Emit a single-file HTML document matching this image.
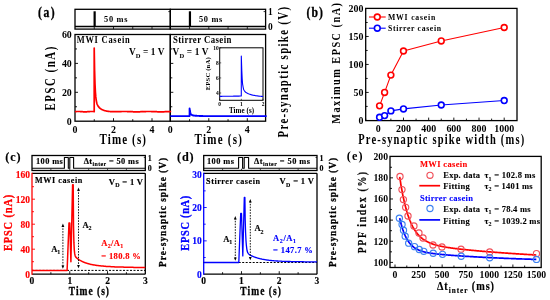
<!DOCTYPE html>
<html><head><meta charset="utf-8"><style>
html,body{margin:0;padding:0;background:#fff;width:550px;height:300px;overflow:hidden}
svg{display:block;filter:blur(0.35px)}
text{font-family:"Liberation Serif",serif;font-weight:bold}
</style></head><body>
<svg width="550" height="300" viewBox="0 0 550 300">
<rect x="0" y="0" width="550" height="300" fill="#fff"/>
<text stroke="#000" stroke-width="0.3" transform="translate(38.00,16.80) scale(0.82,1)" font-size="14.3" fill="#000" text-anchor="start" textLength="20.37" lengthAdjust="spacing">(a)</text>
<rect x="75.00" y="9.30" width="95.30" height="19.80" fill="none" stroke="#000" stroke-width="1.3"/>
<rect x="170.30" y="9.30" width="95.30" height="19.80" fill="none" stroke="#000" stroke-width="1.3"/>
<line x1="75.00" y1="26.50" x2="170.30" y2="26.50" stroke="#000" stroke-width="1.3" />
<rect x="93.54" y="11.3" width="2.2" height="15.3" fill="#000"/>
<line x1="94.25" y1="29.10" x2="94.25" y2="26.80" stroke="#000" stroke-width="0.8" />
<line x1="113.50" y1="29.10" x2="113.50" y2="26.80" stroke="#000" stroke-width="0.8" />
<line x1="132.75" y1="29.10" x2="132.75" y2="26.80" stroke="#000" stroke-width="0.8" />
<line x1="152.00" y1="29.10" x2="152.00" y2="26.80" stroke="#000" stroke-width="0.8" />
<line x1="170.30" y1="11.60" x2="168.30" y2="11.60" stroke="#000" stroke-width="0.8" />
<line x1="170.30" y1="26.50" x2="265.60" y2="26.50" stroke="#000" stroke-width="1.3" />
<rect x="188.84" y="11.3" width="2.2" height="15.3" fill="#000"/>
<line x1="189.55" y1="29.10" x2="189.55" y2="26.80" stroke="#000" stroke-width="0.8" />
<line x1="208.80" y1="29.10" x2="208.80" y2="26.80" stroke="#000" stroke-width="0.8" />
<line x1="228.05" y1="29.10" x2="228.05" y2="26.80" stroke="#000" stroke-width="0.8" />
<line x1="247.30" y1="29.10" x2="247.30" y2="26.80" stroke="#000" stroke-width="0.8" />
<line x1="265.60" y1="11.60" x2="263.60" y2="11.60" stroke="#000" stroke-width="0.8" />
<text transform="translate(104.10,22.20) scale(0.95,1)" font-size="8.8" fill="#000" text-anchor="start" textLength="24.63" lengthAdjust="spacing">50 ms</text>
<text transform="translate(198.90,22.20) scale(0.95,1)" font-size="8.8" fill="#000" text-anchor="start" textLength="24.63" lengthAdjust="spacing">50 ms</text>
<text transform="translate(270.30,15.00) scale(0.92,1)" font-size="10.26" fill="#000" text-anchor="middle">1</text>
<text transform="translate(270.30,30.00) scale(0.92,1)" font-size="10.26" fill="#000" text-anchor="middle">0</text>
<rect x="75.00" y="34.50" width="95.30" height="86.70" fill="none" stroke="#000" stroke-width="1.3"/>
<rect x="170.30" y="34.50" width="95.30" height="86.70" fill="none" stroke="#000" stroke-width="1.3"/>
<line x1="75.00" y1="106.75" x2="77.00" y2="106.75" stroke="#000" stroke-width="0.9" />
<line x1="75.00" y1="92.30" x2="78.00" y2="92.30" stroke="#000" stroke-width="0.9" />
<line x1="75.00" y1="77.85" x2="77.00" y2="77.85" stroke="#000" stroke-width="0.9" />
<line x1="75.00" y1="63.40" x2="78.00" y2="63.40" stroke="#000" stroke-width="0.9" />
<line x1="75.00" y1="48.95" x2="77.00" y2="48.95" stroke="#000" stroke-width="0.9" />
<line x1="94.25" y1="121.20" x2="94.25" y2="119.20" stroke="#000" stroke-width="0.9" />
<line x1="113.50" y1="121.20" x2="113.50" y2="118.20" stroke="#000" stroke-width="0.9" />
<line x1="132.75" y1="121.20" x2="132.75" y2="119.20" stroke="#000" stroke-width="0.9" />
<line x1="152.00" y1="121.20" x2="152.00" y2="118.20" stroke="#000" stroke-width="0.9" />
<line x1="170.30" y1="106.75" x2="172.30" y2="106.75" stroke="#000" stroke-width="0.9" />
<line x1="170.30" y1="92.30" x2="173.30" y2="92.30" stroke="#000" stroke-width="0.9" />
<line x1="170.30" y1="77.85" x2="172.30" y2="77.85" stroke="#000" stroke-width="0.9" />
<line x1="170.30" y1="63.40" x2="173.30" y2="63.40" stroke="#000" stroke-width="0.9" />
<line x1="170.30" y1="48.95" x2="172.30" y2="48.95" stroke="#000" stroke-width="0.9" />
<line x1="189.55" y1="121.20" x2="189.55" y2="119.20" stroke="#000" stroke-width="0.9" />
<line x1="208.80" y1="121.20" x2="208.80" y2="118.20" stroke="#000" stroke-width="0.9" />
<line x1="228.05" y1="121.20" x2="228.05" y2="119.20" stroke="#000" stroke-width="0.9" />
<line x1="247.30" y1="121.20" x2="247.30" y2="118.20" stroke="#000" stroke-width="0.9" />
<text transform="translate(71.80,124.60) scale(0.92,1)" font-size="10.80" fill="#000" text-anchor="end">0</text>
<text transform="translate(71.80,95.70) scale(0.92,1)" font-size="10.80" fill="#000" text-anchor="end">20</text>
<text transform="translate(71.80,66.80) scale(0.92,1)" font-size="10.80" fill="#000" text-anchor="end">40</text>
<text transform="translate(71.80,37.90) scale(0.92,1)" font-size="10.80" fill="#000" text-anchor="end">60</text>
<text transform="translate(75.00,132.60) scale(0.92,1)" font-size="10.80" fill="#000" text-anchor="middle">0</text>
<text transform="translate(113.50,132.60) scale(0.92,1)" font-size="10.80" fill="#000" text-anchor="middle">2</text>
<text transform="translate(152.00,132.60) scale(0.92,1)" font-size="10.80" fill="#000" text-anchor="middle">4</text>
<text transform="translate(170.30,132.60) scale(0.92,1)" font-size="10.80" fill="#000" text-anchor="middle">0</text>
<text transform="translate(208.80,132.60) scale(0.92,1)" font-size="10.80" fill="#000" text-anchor="middle">2</text>
<text transform="translate(247.30,132.60) scale(0.92,1)" font-size="10.80" fill="#000" text-anchor="middle">4</text>
<text transform="translate(99.50,144.40) scale(0.76,1)" font-size="14.5" fill="#000" text-anchor="start" textLength="61.18" lengthAdjust="spacing">Time (s)</text>
<text transform="translate(194.50,144.40) scale(0.76,1)" font-size="14.5" fill="#000" text-anchor="start" textLength="62.50" lengthAdjust="spacing">Time (s)</text>
<text transform="translate(55.20,78.60) rotate(-90) scale(0.76,1)" font-size="14.3" fill="#000" text-anchor="middle" textLength="84.21" lengthAdjust="spacing">EPSC (nA)</text>
<text transform="translate(287.60,72.20) rotate(-90) scale(0.76,1)" font-size="14.3" fill="#000" text-anchor="middle" textLength="171.71" lengthAdjust="spacing">Pre-synaptic spike (V)</text>
<path d="M75.0,111.7L75.4,111.6L75.8,111.6L76.2,111.6L76.5,111.5L76.9,111.5L77.3,111.5L77.7,111.5L78.1,111.5L78.5,111.5L78.8,111.5L79.2,111.5L79.6,111.5L80.0,111.5L80.4,111.6L80.8,111.6L81.2,111.6L81.5,111.6L81.9,111.7L82.3,111.7L82.7,111.7L83.1,111.8L83.5,111.8L83.9,111.8L84.2,111.8L84.6,111.8L85.0,111.8L85.4,111.8L85.8,111.8L86.2,111.8L86.5,111.8L86.9,111.8L87.3,111.7L87.7,111.7L88.1,111.7L88.5,111.7L88.9,111.6L89.2,111.6L89.6,111.6L90.0,111.5L90.4,111.5L90.8,111.5L91.2,111.5L91.6,111.5L91.9,111.5L92.3,111.5L92.7,111.5L93.1,111.5L93.5,111.5L93.9,111.6L94.2,111.7L94.2,48.1L94.6,70.8L95.0,84.1L95.4,92.1L95.8,96.9L96.2,100.0L96.6,102.1L96.9,103.5L97.3,104.6L97.7,105.4L98.1,106.1L98.5,106.6L98.9,107.1L99.3,107.6L99.6,107.9L100.0,108.3L100.4,108.6L100.8,108.9L101.2,109.1L101.6,109.4L102.0,109.6L102.3,109.8L102.7,109.9L103.1,110.1L103.5,110.3L103.9,110.4L104.3,110.5L104.6,110.6L105.0,110.7L105.4,110.8L105.8,110.9L106.2,111.0L106.6,111.1L107.0,111.2L107.3,111.2L107.7,111.3L108.1,111.3L108.5,111.4L108.9,111.4L109.3,111.5L109.7,111.5L110.0,111.5L110.4,111.6L110.8,111.6L111.2,111.6L111.6,111.6L112.0,111.7L112.3,111.7L112.7,111.7L113.1,111.7L113.5,111.7L113.9,111.7L114.3,111.7L114.7,111.7L115.0,111.7L115.4,111.7L115.8,111.7L116.2,111.7L116.6,111.7L117.0,111.7L117.3,111.7L117.7,111.7L118.1,111.6L118.5,111.6L118.9,111.6L119.3,111.6L119.7,111.6L120.0,111.6L120.4,111.6L120.8,111.6L121.2,111.6L121.6,111.5L122.0,111.5L122.4,111.5L122.7,111.5L123.1,111.5L123.5,111.5L123.9,111.5L124.3,111.5L124.7,111.5L125.1,111.5L125.4,111.5L125.8,111.5L126.2,111.5L126.6,111.5L127.0,111.5L127.4,111.6L127.7,111.6L128.1,111.6L128.5,111.6L128.9,111.6L129.3,111.6L129.7,111.6L130.1,111.6L130.4,111.7L130.8,111.7L131.2,111.7L131.6,111.7L132.0,111.7L132.4,111.7L132.8,111.7L133.1,111.8L133.5,111.8L133.9,111.8L134.3,111.8L134.7,111.8L135.1,111.8L135.4,111.8L135.8,111.8L136.2,111.8L136.6,111.8L137.0,111.8L137.4,111.8L137.8,111.8L138.1,111.8L138.5,111.8L138.9,111.8L139.3,111.8L139.7,111.8L140.1,111.8L140.4,111.7L140.8,111.7L141.2,111.7L141.6,111.7L142.0,111.7L142.4,111.7L142.8,111.7L143.1,111.6L143.5,111.6L143.9,111.6L144.3,111.6L144.7,111.6L145.1,111.6L145.5,111.6L145.8,111.6L146.2,111.5L146.6,111.5L147.0,111.5L147.4,111.5L147.8,111.5L148.1,111.5L148.5,111.5L148.9,111.5L149.3,111.5L149.7,111.5L150.1,111.5L150.5,111.5L150.8,111.5L151.2,111.5L151.6,111.6L152.0,111.6L152.4,111.6L152.8,111.6L153.2,111.6L153.5,111.6L153.9,111.6L154.3,111.6L154.7,111.7L155.1,111.7L155.5,111.7L155.9,111.7L156.2,111.7L156.6,111.7L157.0,111.7L157.4,111.8L157.8,111.8L158.2,111.8L158.5,111.8L158.9,111.8L159.3,111.8L159.7,111.8L160.1,111.8L160.5,111.8L160.9,111.8L161.2,111.8L161.6,111.8L162.0,111.8L162.4,111.8L162.8,111.8L163.2,111.8L163.6,111.8L163.9,111.8L164.3,111.8L164.7,111.7L165.1,111.7L165.5,111.7L165.9,111.7L166.2,111.7L166.6,111.7L167.0,111.7L167.4,111.6L167.8,111.6L168.2,111.6L168.6,111.6L168.9,111.6L169.3,111.6L169.7,111.6L170.1,111.6L170.5,111.5L170.9,111.5L171.2,111.5" fill="none" stroke="#ff0000" stroke-width="1.7" stroke-linejoin="round" />
<path d="M170.3,116.1L170.7,116.1L171.1,116.1L171.5,116.1L171.8,116.1L172.2,116.1L172.6,116.1L173.0,116.1L173.4,116.1L173.8,116.1L174.2,116.1L174.5,116.1L174.9,116.1L175.3,116.1L175.7,116.1L176.1,116.1L176.5,116.1L176.8,116.1L177.2,116.1L177.6,116.1L178.0,116.1L178.4,116.1L178.8,116.1L179.2,116.1L179.5,116.1L179.9,116.1L180.3,116.1L180.7,116.1L181.1,116.1L181.5,116.1L181.9,116.1L182.2,116.1L182.6,116.1L183.0,116.1L183.4,116.1L183.8,116.1L184.2,116.1L184.5,116.1L184.9,116.1L185.3,116.1L185.7,116.1L186.1,116.1L186.5,116.1L186.9,116.1L187.2,116.1L187.6,116.1L188.0,116.1L188.4,116.1L188.8,116.1L189.2,116.1L189.6,116.1L189.6,108.5L189.9,111.0L190.3,112.6L190.7,113.6L191.1,114.3L191.5,114.7L191.9,114.9L192.2,115.1L192.6,115.3L193.0,115.4L193.4,115.5L193.8,115.5L194.2,115.6L194.6,115.6L194.9,115.7L195.3,115.7L195.7,115.7L196.1,115.8L196.5,115.8L196.9,115.8L197.2,115.9L197.6,115.9L198.0,115.9L198.4,115.9L198.8,115.9L199.2,115.9L199.6,116.0L199.9,116.0L200.3,116.0L200.7,116.0L201.1,116.0L201.5,116.0L201.9,116.0L202.3,116.0L202.6,116.0L203.0,116.1L203.4,116.1L203.8,116.1L204.2,116.1L204.6,116.1L205.0,116.1L205.3,116.1L205.7,116.1L206.1,116.1L206.5,116.1L206.9,116.1L207.3,116.1L207.6,116.1L208.0,116.1L208.4,116.1L208.8,116.1L209.2,116.1L209.6,116.1L210.0,116.1L210.3,116.1L210.7,116.1L211.1,116.1L211.5,116.1L211.9,116.1L212.3,116.1L212.7,116.1L213.0,116.1L213.4,116.1L213.8,116.1L214.2,116.1L214.6,116.1L215.0,116.1L215.3,116.1L215.7,116.1L216.1,116.1L216.5,116.1L216.9,116.1L217.3,116.1L217.7,116.1L218.0,116.1L218.4,116.1L218.8,116.1L219.2,116.1L219.6,116.1L220.0,116.1L220.4,116.1L220.7,116.1L221.1,116.1L221.5,116.1L221.9,116.1L222.3,116.1L222.7,116.1L223.0,116.1L223.4,116.1L223.8,116.1L224.2,116.1L224.6,116.1L225.0,116.1L225.4,116.1L225.7,116.1L226.1,116.1L226.5,116.1L226.9,116.1L227.3,116.1L227.7,116.1L228.1,116.1L228.4,116.1L228.8,116.1L229.2,116.1L229.6,116.1L230.0,116.1L230.4,116.1L230.7,116.1L231.1,116.1L231.5,116.1L231.9,116.1L232.3,116.1L232.7,116.1L233.1,116.1L233.4,116.1L233.8,116.1L234.2,116.1L234.6,116.1L235.0,116.1L235.4,116.1L235.8,116.1L236.1,116.1L236.5,116.1L236.9,116.1L237.3,116.1L237.7,116.1L238.1,116.1L238.4,116.1L238.8,116.1L239.2,116.1L239.6,116.1L240.0,116.1L240.4,116.1L240.8,116.1L241.1,116.1L241.5,116.1L241.9,116.1L242.3,116.1L242.7,116.1L243.1,116.1L243.4,116.1L243.8,116.1L244.2,116.1L244.6,116.1L245.0,116.1L245.4,116.1L245.8,116.1L246.1,116.1L246.5,116.1L246.9,116.1L247.3,116.1L247.7,116.1L248.1,116.1L248.5,116.1L248.8,116.1L249.2,116.1L249.6,116.1L250.0,116.1L250.4,116.1L250.8,116.1L251.2,116.1L251.5,116.1L251.9,116.1L252.3,116.1L252.7,116.1L253.1,116.1L253.5,116.1L253.8,116.1L254.2,116.1L254.6,116.1L255.0,116.1L255.4,116.1L255.8,116.1L256.2,116.1L256.5,116.1L256.9,116.1L257.3,116.1L257.7,116.1L258.1,116.1L258.5,116.1L258.9,116.1L259.2,116.1L259.6,116.1L260.0,116.1L260.4,116.1L260.8,116.1L261.2,116.1L261.5,116.1L261.9,116.1L262.3,116.1L262.7,116.1L263.1,116.1L263.5,116.1L263.9,116.1L264.2,116.1L264.6,116.1L265.0,116.1L265.4,116.1L265.8,116.1L266.2,116.1L266.6,116.1" fill="none" stroke="#0000ff" stroke-width="1.9" stroke-linejoin="round" />
<text transform="translate(76.70,43.40) scale(0.88,1)" font-size="9.6" fill="#000" text-anchor="start" textLength="60.23" lengthAdjust="spacing">MWI Casein</text>
<text transform="translate(172.90,43.10) scale(0.88,1)" font-size="10" fill="#000" text-anchor="start" textLength="66.48" lengthAdjust="spacing">Stirrer Casein</text>
<text transform="translate(129.10,54.90) scale(0.95,1)" font-size="9.8" fill="#000" textLength="37.26" lengthAdjust="spacing">V<tspan font-size="6.9" dy="2.6">D</tspan><tspan dy="-2.6"> = 1 V</tspan></text>
<text transform="translate(172.60,54.90) scale(0.95,1)" font-size="9.8" fill="#000" textLength="37.89" lengthAdjust="spacing">V<tspan font-size="6.9" dy="2.6">D</tspan><tspan dy="-2.6"> = 1 V</tspan></text>
<rect x="219.70" y="47.80" width="43.30" height="52.50" fill="#fff" stroke="#000" stroke-width="1.0"/>
<path d="M219.7,96.4L220.1,96.4L220.6,96.4L221.0,96.4L221.4,96.4L221.9,96.4L222.3,96.3L222.7,96.3L223.2,96.3L223.6,96.3L224.0,96.3L224.5,96.3L224.9,96.3L225.3,96.3L225.8,96.3L226.2,96.3L226.6,96.3L227.1,96.3L227.5,96.3L227.9,96.2L228.4,96.2L228.8,96.2L229.2,96.2L229.7,96.2L230.1,96.2L230.5,96.2L231.0,96.2L231.4,96.2L231.8,96.2L232.3,96.2L232.7,96.2L233.1,96.2L233.6,96.1L234.0,96.1L234.4,96.1L234.9,96.1L235.3,96.1L235.7,96.1L236.2,96.1L236.6,96.1L237.0,96.1L237.5,96.1L237.9,96.1L238.3,96.1L238.8,96.1L239.2,96.1L239.6,96.0L240.1,96.0L240.5,96.0L240.9,96.0L241.3,96.0L241.3,56.1L241.8,70.7L242.2,79.1L242.6,84.1L243.1,87.0L243.5,88.8L243.9,90.0L244.4,90.8L244.8,91.4L245.2,91.8L245.7,92.2L246.1,92.5L246.5,92.8L247.0,93.0L247.4,93.3L247.8,93.5L248.3,93.7L248.7,93.8L249.1,94.0L249.6,94.2L250.0,94.3L250.4,94.5L250.9,94.6L251.3,94.7L251.7,94.9L252.2,95.0L252.6,95.1L253.0,95.2L253.5,95.3L253.9,95.4L254.3,95.4L254.8,95.5L255.2,95.6L255.6,95.7L256.1,95.7L256.5,95.8L256.9,95.9L257.4,95.9L257.8,96.0L258.2,96.0L258.7,96.1L259.1,96.1L259.5,96.2L260.0,96.2L260.4,96.3L260.8,96.3L261.3,96.4L261.7,96.4L262.1,96.4L262.6,96.5L263.0,96.5" fill="none" stroke="#0000ff" stroke-width="1.1" stroke-linejoin="round" />
<line x1="219.70" y1="93.00" x2="221.20" y2="93.00" stroke="#000" stroke-width="0.6" />
<text transform="translate(218.70,95.00) scale(0.92,1)" font-size="5.94" fill="#000" text-anchor="end">4</text>
<line x1="219.70" y1="77.93" x2="221.20" y2="77.93" stroke="#000" stroke-width="0.6" />
<text transform="translate(218.70,79.93) scale(0.92,1)" font-size="5.94" fill="#000" text-anchor="end">6</text>
<line x1="219.70" y1="62.87" x2="221.20" y2="62.87" stroke="#000" stroke-width="0.6" />
<text transform="translate(218.70,64.87) scale(0.92,1)" font-size="5.94" fill="#000" text-anchor="end">8</text>
<line x1="219.70" y1="47.80" x2="221.20" y2="47.80" stroke="#000" stroke-width="0.6" />
<text transform="translate(218.70,49.80) scale(0.92,1)" font-size="5.94" fill="#000" text-anchor="end">10</text>
<line x1="219.70" y1="100.30" x2="219.70" y2="98.80" stroke="#000" stroke-width="0.6" />
<text transform="translate(219.70,105.80) scale(0.92,1)" font-size="5.94" fill="#000" text-anchor="middle">0</text>
<line x1="241.35" y1="100.30" x2="241.35" y2="98.80" stroke="#000" stroke-width="0.6" />
<text transform="translate(241.35,105.80) scale(0.92,1)" font-size="5.94" fill="#000" text-anchor="middle">1</text>
<line x1="263.00" y1="100.30" x2="263.00" y2="98.80" stroke="#000" stroke-width="0.6" />
<text transform="translate(263.00,105.80) scale(0.92,1)" font-size="5.94" fill="#000" text-anchor="middle">2</text>
<text transform="translate(229.00,113.00) scale(0.95,1)" font-size="7.4" fill="#000" text-anchor="start" textLength="26.32" lengthAdjust="spacing">Time (s)</text>
<text transform="translate(210.40,73.80) rotate(-90) scale(0.95,1)" font-size="7.0" fill="#000" text-anchor="middle" textLength="34.74" lengthAdjust="spacing">EPSC (nA)</text>
<text stroke="#000" stroke-width="0.3" transform="translate(306.50,17.00) scale(0.82,1)" font-size="14.3" fill="#000" text-anchor="start" textLength="20.12" lengthAdjust="spacing">(b)</text>
<rect x="365.70" y="8.40" width="151.30" height="112.20" fill="none" stroke="#000" stroke-width="1.3"/>
<line x1="365.70" y1="106.41" x2="367.70" y2="106.41" stroke="#000" stroke-width="0.9" />
<line x1="365.70" y1="92.43" x2="368.70" y2="92.43" stroke="#000" stroke-width="0.9" />
<line x1="365.70" y1="78.44" x2="367.70" y2="78.44" stroke="#000" stroke-width="0.9" />
<line x1="365.70" y1="64.45" x2="368.70" y2="64.45" stroke="#000" stroke-width="0.9" />
<line x1="365.70" y1="50.46" x2="367.70" y2="50.46" stroke="#000" stroke-width="0.9" />
<line x1="365.70" y1="36.48" x2="368.70" y2="36.48" stroke="#000" stroke-width="0.9" />
<line x1="365.70" y1="22.49" x2="367.70" y2="22.49" stroke="#000" stroke-width="0.9" />
<line x1="365.71" y1="120.60" x2="365.71" y2="118.60" stroke="#000" stroke-width="0.9" />
<line x1="378.30" y1="120.60" x2="378.30" y2="117.60" stroke="#000" stroke-width="0.9" />
<line x1="390.89" y1="120.60" x2="390.89" y2="118.60" stroke="#000" stroke-width="0.9" />
<line x1="403.48" y1="120.60" x2="403.48" y2="117.60" stroke="#000" stroke-width="0.9" />
<line x1="416.07" y1="120.60" x2="416.07" y2="118.60" stroke="#000" stroke-width="0.9" />
<line x1="428.66" y1="120.60" x2="428.66" y2="117.60" stroke="#000" stroke-width="0.9" />
<line x1="441.25" y1="120.60" x2="441.25" y2="118.60" stroke="#000" stroke-width="0.9" />
<line x1="453.84" y1="120.60" x2="453.84" y2="117.60" stroke="#000" stroke-width="0.9" />
<line x1="466.43" y1="120.60" x2="466.43" y2="118.60" stroke="#000" stroke-width="0.9" />
<line x1="479.02" y1="120.60" x2="479.02" y2="117.60" stroke="#000" stroke-width="0.9" />
<line x1="491.61" y1="120.60" x2="491.61" y2="118.60" stroke="#000" stroke-width="0.9" />
<line x1="504.20" y1="120.60" x2="504.20" y2="117.60" stroke="#000" stroke-width="0.9" />
<text transform="translate(363.50,123.80) scale(0.92,1)" font-size="10.80" fill="#000" text-anchor="end">0</text>
<text transform="translate(363.50,95.83) scale(0.92,1)" font-size="10.80" fill="#000" text-anchor="end">50</text>
<text transform="translate(363.50,67.85) scale(0.92,1)" font-size="10.80" fill="#000" text-anchor="end">100</text>
<text transform="translate(363.50,39.88) scale(0.92,1)" font-size="10.80" fill="#000" text-anchor="end">150</text>
<text transform="translate(363.50,11.90) scale(0.92,1)" font-size="10.80" fill="#000" text-anchor="end">200</text>
<text transform="translate(378.30,131.80) scale(0.92,1)" font-size="10.80" fill="#000" text-anchor="middle">0</text>
<text transform="translate(403.48,131.80) scale(0.92,1)" font-size="10.80" fill="#000" text-anchor="middle">200</text>
<text transform="translate(428.66,131.80) scale(0.92,1)" font-size="10.80" fill="#000" text-anchor="middle">400</text>
<text transform="translate(453.84,131.80) scale(0.92,1)" font-size="10.80" fill="#000" text-anchor="middle">600</text>
<text transform="translate(479.02,131.80) scale(0.92,1)" font-size="10.80" fill="#000" text-anchor="middle">800</text>
<text transform="translate(504.20,131.80) scale(0.92,1)" font-size="10.80" fill="#000" text-anchor="middle">1000</text>
<text transform="translate(358.20,143.60) scale(0.76,1)" font-size="13.8" fill="#000" text-anchor="start" textLength="218.42" lengthAdjust="spacing">Pre-synaptic spike width (ms)</text>
<text transform="translate(340.30,63.40) rotate(-90) scale(0.8,1)" font-size="12.8" fill="#000" text-anchor="middle" textLength="151.00" lengthAdjust="spacing">Maximum EPSC (nA)</text>
<path d="M379.6,105.9L384.6,92.4L390.9,75.1L403.5,51.0L441.2,41.0L504.2,27.5" fill="none" stroke="#ff0000" stroke-width="1.1" stroke-linejoin="round" />
<circle cx="379.56" cy="105.85" r="2.9" fill="#fff" stroke="#ff0000" stroke-width="1.6"/>
<circle cx="384.60" cy="92.43" r="2.9" fill="#fff" stroke="#ff0000" stroke-width="1.6"/>
<circle cx="390.89" cy="75.08" r="2.9" fill="#fff" stroke="#ff0000" stroke-width="1.6"/>
<circle cx="403.48" cy="51.02" r="2.9" fill="#fff" stroke="#ff0000" stroke-width="1.6"/>
<circle cx="441.25" cy="40.95" r="2.9" fill="#fff" stroke="#ff0000" stroke-width="1.6"/>
<circle cx="504.20" cy="27.52" r="2.9" fill="#fff" stroke="#ff0000" stroke-width="1.6"/>
<path d="M379.6,117.3L384.6,115.6L390.9,110.9L403.5,108.9L441.2,105.0L504.2,100.5" fill="none" stroke="#0000ff" stroke-width="1.1" stroke-linejoin="round" />
<circle cx="379.56" cy="117.32" r="2.9" fill="#fff" stroke="#0000ff" stroke-width="1.6"/>
<circle cx="384.60" cy="115.59" r="2.9" fill="#fff" stroke="#0000ff" stroke-width="1.6"/>
<circle cx="390.89" cy="110.89" r="2.9" fill="#fff" stroke="#0000ff" stroke-width="1.6"/>
<circle cx="403.48" cy="108.93" r="2.9" fill="#fff" stroke="#0000ff" stroke-width="1.6"/>
<circle cx="441.25" cy="105.01" r="2.9" fill="#fff" stroke="#0000ff" stroke-width="1.6"/>
<circle cx="504.20" cy="100.54" r="2.9" fill="#fff" stroke="#0000ff" stroke-width="1.6"/>
<line x1="369.00" y1="17.00" x2="385.70" y2="17.00" stroke="#ff0000" stroke-width="1.1" />
<circle cx="377.3" cy="17" r="2.9" fill="#fff" stroke="#ff0000" stroke-width="1.6"/>
<line x1="369.00" y1="28.20" x2="385.70" y2="28.20" stroke="#0000ff" stroke-width="1.1" />
<circle cx="377.3" cy="28.2" r="2.9" fill="#fff" stroke="#0000ff" stroke-width="1.6"/>
<text transform="translate(388.00,19.70) scale(0.88,1)" font-size="8.8" fill="#000" text-anchor="start" textLength="53.75" lengthAdjust="spacing">MWI casein</text>
<text transform="translate(388.00,31.30) scale(0.88,1)" font-size="8.8" fill="#000" text-anchor="start" textLength="60.23" lengthAdjust="spacing">Stirrer casein</text>
<rect x="32.00" y="155.50" width="113.30" height="15.00" fill="none" stroke="#000" stroke-width="1.3"/>
<path d="M32.0,168.3L64.4,168.3L64.4,157.5L68.3,157.5L68.3,168.3L69.8,168.3L69.8,157.5L73.6,157.5L73.6,168.3L145.3,168.3" fill="none" stroke="#000" stroke-width="1.1" stroke-linejoin="round" />
<line x1="50.88" y1="170.50" x2="50.88" y2="168.70" stroke="#000" stroke-width="0.7" />
<line x1="69.77" y1="170.50" x2="69.77" y2="168.70" stroke="#000" stroke-width="0.7" />
<line x1="88.65" y1="170.50" x2="88.65" y2="168.70" stroke="#000" stroke-width="0.7" />
<line x1="107.53" y1="170.50" x2="107.53" y2="168.70" stroke="#000" stroke-width="0.7" />
<line x1="126.42" y1="170.50" x2="126.42" y2="168.70" stroke="#000" stroke-width="0.7" />
<line x1="145.30" y1="157.50" x2="143.80" y2="157.50" stroke="#000" stroke-width="0.7" />
<text stroke="#000" stroke-width="0.15" transform="translate(149.70,160.90) scale(0.92,1)" font-size="8.64" fill="#000" text-anchor="middle">1</text>
<text stroke="#000" stroke-width="0.15" transform="translate(149.70,170.80) scale(0.92,1)" font-size="8.64" fill="#000" text-anchor="middle">0</text>
<line x1="32.00" y1="173.30" x2="145.30" y2="173.30" stroke="#000" stroke-width="1.3" />
<line x1="145.30" y1="173.30" x2="145.30" y2="274.20" stroke="#000" stroke-width="1.3" />
<line x1="32.00" y1="274.20" x2="145.30" y2="274.20" stroke="#000" stroke-width="1.3" />
<line x1="32.00" y1="172.70" x2="32.00" y2="274.80" stroke="#ff0000" stroke-width="1.3" />
<text stroke="#ff0000" stroke-width="0.15" transform="translate(30.00,277.50) scale(0.92,1)" font-size="10.37" fill="#ff0000" text-anchor="end">0</text>
<line x1="32.00" y1="261.70" x2="34.00" y2="261.70" stroke="#ff0000" stroke-width="0.9" />
<text stroke="#ff0000" stroke-width="0.15" transform="translate(30.00,252.50) scale(0.92,1)" font-size="10.37" fill="#ff0000" text-anchor="end">40</text>
<line x1="32.00" y1="249.20" x2="35.00" y2="249.20" stroke="#ff0000" stroke-width="0.9" />
<line x1="32.00" y1="236.70" x2="34.00" y2="236.70" stroke="#ff0000" stroke-width="0.9" />
<text stroke="#ff0000" stroke-width="0.15" transform="translate(30.00,227.50) scale(0.92,1)" font-size="10.37" fill="#ff0000" text-anchor="end">80</text>
<line x1="32.00" y1="224.20" x2="35.00" y2="224.20" stroke="#ff0000" stroke-width="0.9" />
<line x1="32.00" y1="211.70" x2="34.00" y2="211.70" stroke="#ff0000" stroke-width="0.9" />
<text stroke="#ff0000" stroke-width="0.15" transform="translate(30.00,202.50) scale(0.92,1)" font-size="10.37" fill="#ff0000" text-anchor="end">120</text>
<line x1="32.00" y1="199.20" x2="35.00" y2="199.20" stroke="#ff0000" stroke-width="0.9" />
<line x1="32.00" y1="186.70" x2="34.00" y2="186.70" stroke="#ff0000" stroke-width="0.9" />
<text stroke="#ff0000" stroke-width="0.15" transform="translate(30.00,177.50) scale(0.92,1)" font-size="10.37" fill="#ff0000" text-anchor="end">160</text>
<line x1="50.88" y1="274.20" x2="50.88" y2="272.20" stroke="#000" stroke-width="0.9" />
<line x1="69.77" y1="274.20" x2="69.77" y2="271.20" stroke="#000" stroke-width="0.9" />
<line x1="88.65" y1="274.20" x2="88.65" y2="272.20" stroke="#000" stroke-width="0.9" />
<line x1="107.53" y1="274.20" x2="107.53" y2="271.20" stroke="#000" stroke-width="0.9" />
<line x1="126.42" y1="274.20" x2="126.42" y2="272.20" stroke="#000" stroke-width="0.9" />
<text stroke="#000" stroke-width="0.15" transform="translate(32.00,284.30) scale(0.92,1)" font-size="10.37" fill="#000" text-anchor="middle">0</text>
<text stroke="#000" stroke-width="0.15" transform="translate(69.77,284.30) scale(0.92,1)" font-size="10.37" fill="#000" text-anchor="middle">1</text>
<text stroke="#000" stroke-width="0.15" transform="translate(107.53,284.30) scale(0.92,1)" font-size="10.37" fill="#000" text-anchor="middle">2</text>
<text stroke="#000" stroke-width="0.15" transform="translate(145.30,284.30) scale(0.92,1)" font-size="10.37" fill="#000" text-anchor="middle">3</text>
<line x1="32.00" y1="270.40" x2="145.30" y2="270.40" stroke="#000" stroke-width="1" stroke-dasharray="2,1.5"/>
<path d="M32.0,270.4L67.1,270.4L69.0,222.9L69.8,222.9L70.9,261.7L72.6,184.8L73.2,184.8L73.5,225.1L73.9,242.4L74.3,250.1L74.7,253.7L75.1,255.5L75.4,256.4L75.8,257.1L76.2,257.5L76.6,257.9L76.9,258.2L77.3,258.5L77.7,258.8L78.1,259.1L78.5,259.3L78.8,259.6L79.2,259.8L79.6,260.1L80.0,260.3L80.3,260.5L80.7,260.7L81.1,260.9L81.5,261.1L81.9,261.3L82.2,261.5L82.6,261.7L83.0,261.8L83.4,262.0L83.7,262.2L84.1,262.3L84.5,262.5L84.9,262.6L85.3,262.8L85.6,262.9L86.0,263.0L86.4,263.1L86.8,263.3L87.1,263.4L87.5,263.5L87.9,263.6L88.3,263.7L88.7,263.8L89.0,263.9L89.4,264.0L89.8,264.1L90.2,264.2L90.5,264.3L90.9,264.4L91.3,264.4L91.7,264.5L92.0,264.6L92.4,264.7L92.8,264.7L93.2,264.8L93.6,264.9L93.9,264.9L94.3,265.0L94.7,265.1L95.1,265.1L95.4,265.2L95.8,265.3L96.2,265.3L96.6,265.4L97.0,265.4L97.3,265.5L97.7,265.5L98.1,265.6L98.5,265.6L98.8,265.7L99.2,265.7L99.6,265.8L100.0,265.8L100.4,265.8L100.7,265.9L101.1,265.9L101.5,266.0L101.9,266.0L102.2,266.0L102.6,266.1L103.0,266.1L103.4,266.1L103.8,266.2L104.1,266.2L104.5,266.2L104.9,266.3L105.3,266.3L105.6,266.3L106.0,266.4L106.4,266.4L106.8,266.4L107.2,266.4L107.5,266.5L107.9,266.5L108.3,266.5L108.7,266.5L109.0,266.6L109.4,266.6L109.8,266.6L110.2,266.6L110.6,266.6L110.9,266.7L111.3,266.7L111.7,266.7L112.1,266.7L112.4,266.7L112.8,266.8L113.2,266.8L113.6,266.8L114.0,266.8L114.3,266.8L114.7,266.9L115.1,266.9L115.5,266.9L115.8,266.9L116.2,266.9L116.6,266.9L117.0,266.9L117.4,267.0L117.7,267.0L118.1,267.0L118.5,267.0L118.9,267.0L119.2,267.0L119.6,267.0L120.0,267.0L120.4,267.1L120.8,267.1L121.1,267.1L121.5,267.1L121.9,267.1L122.3,267.1L122.6,267.1L123.0,267.1L123.4,267.1L123.8,267.2L124.2,267.2L124.5,267.2L124.9,267.2L125.3,267.2L125.7,267.2L126.0,267.2L126.4,267.2L126.8,267.2L127.2,267.2L127.5,267.2L127.9,267.3L128.3,267.3L128.7,267.3L129.1,267.3L129.4,267.3L129.8,267.3L130.2,267.3L130.6,267.3L130.9,267.3L131.3,267.3L131.7,267.3L132.1,267.3L132.5,267.3L132.8,267.3L133.2,267.3L133.6,267.4L134.0,267.4L134.3,267.4L134.7,267.4L135.1,267.4L135.5,267.4L135.9,267.4L136.2,267.4L136.6,267.4L137.0,267.4L137.4,267.4L137.7,267.4L138.1,267.4L138.5,267.4L138.9,267.4L139.3,267.4L139.6,267.4L140.0,267.4L140.4,267.4L140.8,267.4L141.1,267.4L141.5,267.5L141.9,267.5L142.3,267.5L142.7,267.5L143.0,267.5L143.4,267.5L143.8,267.5L144.2,267.5L144.5,267.5L144.9,267.5L145.3,267.5L145.3,267.5" fill="none" stroke="#ff0000" stroke-width="1.5" stroke-linejoin="round" />
<line x1="62.90" y1="225.50" x2="62.90" y2="266.80" stroke="#000" stroke-width="0.9" stroke-dasharray="1.6,1.2"/>
<path d="M61.50,226.90L62.90,223.50L64.30,226.90Z" fill="#000"/>
<path d="M61.50,265.40L62.90,268.80L64.30,265.40Z" fill="#000"/>
<line x1="78.50" y1="189.50" x2="78.50" y2="266.30" stroke="#000" stroke-width="0.9" stroke-dasharray="1.6,1.2"/>
<path d="M77.10,190.90L78.50,187.50L79.90,190.90Z" fill="#000"/>
<path d="M77.10,264.90L78.50,268.30L79.90,264.90Z" fill="#000"/>
<rect x="203.70" y="155.50" width="113.30" height="15.00" fill="none" stroke="#000" stroke-width="1.3"/>
<path d="M203.7,168.3L238.6,168.3L238.6,157.5L242.6,157.5L242.6,168.3L244.2,168.3L244.2,157.5L248.6,157.5L248.6,168.3L317.0,168.3" fill="none" stroke="#000" stroke-width="1.1" stroke-linejoin="round" />
<line x1="222.58" y1="170.50" x2="222.58" y2="168.70" stroke="#000" stroke-width="0.7" />
<line x1="241.47" y1="170.50" x2="241.47" y2="168.70" stroke="#000" stroke-width="0.7" />
<line x1="260.35" y1="170.50" x2="260.35" y2="168.70" stroke="#000" stroke-width="0.7" />
<line x1="279.23" y1="170.50" x2="279.23" y2="168.70" stroke="#000" stroke-width="0.7" />
<line x1="298.12" y1="170.50" x2="298.12" y2="168.70" stroke="#000" stroke-width="0.7" />
<line x1="317.00" y1="157.50" x2="315.50" y2="157.50" stroke="#000" stroke-width="0.7" />
<text stroke="#000" stroke-width="0.15" transform="translate(321.40,160.90) scale(0.92,1)" font-size="8.64" fill="#000" text-anchor="middle">1</text>
<text stroke="#000" stroke-width="0.15" transform="translate(321.40,170.80) scale(0.92,1)" font-size="8.64" fill="#000" text-anchor="middle">0</text>
<line x1="203.70" y1="173.30" x2="317.00" y2="173.30" stroke="#000" stroke-width="1.3" />
<line x1="317.00" y1="173.30" x2="317.00" y2="274.20" stroke="#000" stroke-width="1.3" />
<line x1="203.70" y1="274.20" x2="317.00" y2="274.20" stroke="#000" stroke-width="1.3" />
<line x1="203.70" y1="172.70" x2="203.70" y2="274.80" stroke="#0000ff" stroke-width="1.3" />
<text stroke="#0000ff" stroke-width="0.15" transform="translate(201.70,277.50) scale(0.92,1)" font-size="10.37" fill="#0000ff" text-anchor="end">0</text>
<line x1="203.70" y1="257.53" x2="205.70" y2="257.53" stroke="#0000ff" stroke-width="0.9" />
<text stroke="#0000ff" stroke-width="0.15" transform="translate(201.70,244.17) scale(0.92,1)" font-size="10.37" fill="#0000ff" text-anchor="end">10</text>
<line x1="203.70" y1="240.87" x2="206.70" y2="240.87" stroke="#0000ff" stroke-width="0.9" />
<line x1="203.70" y1="224.20" x2="205.70" y2="224.20" stroke="#0000ff" stroke-width="0.9" />
<text stroke="#0000ff" stroke-width="0.15" transform="translate(201.70,210.83) scale(0.92,1)" font-size="10.37" fill="#0000ff" text-anchor="end">20</text>
<line x1="203.70" y1="207.53" x2="206.70" y2="207.53" stroke="#0000ff" stroke-width="0.9" />
<line x1="203.70" y1="190.87" x2="205.70" y2="190.87" stroke="#0000ff" stroke-width="0.9" />
<text stroke="#0000ff" stroke-width="0.15" transform="translate(201.70,177.50) scale(0.92,1)" font-size="10.37" fill="#0000ff" text-anchor="end">30</text>
<line x1="222.58" y1="274.20" x2="222.58" y2="272.20" stroke="#000" stroke-width="0.9" />
<line x1="241.47" y1="274.20" x2="241.47" y2="271.20" stroke="#000" stroke-width="0.9" />
<line x1="260.35" y1="274.20" x2="260.35" y2="272.20" stroke="#000" stroke-width="0.9" />
<line x1="279.23" y1="274.20" x2="279.23" y2="271.20" stroke="#000" stroke-width="0.9" />
<line x1="298.12" y1="274.20" x2="298.12" y2="272.20" stroke="#000" stroke-width="0.9" />
<text stroke="#000" stroke-width="0.15" transform="translate(203.70,284.30) scale(0.92,1)" font-size="10.37" fill="#000" text-anchor="middle">0</text>
<text stroke="#000" stroke-width="0.15" transform="translate(241.47,284.30) scale(0.92,1)" font-size="10.37" fill="#000" text-anchor="middle">1</text>
<text stroke="#000" stroke-width="0.15" transform="translate(279.23,284.30) scale(0.92,1)" font-size="10.37" fill="#000" text-anchor="middle">2</text>
<text stroke="#000" stroke-width="0.15" transform="translate(317.00,284.30) scale(0.92,1)" font-size="10.37" fill="#000" text-anchor="middle">3</text>
<line x1="203.70" y1="262.50" x2="317.00" y2="262.50" stroke="#000" stroke-width="1" stroke-dasharray="2,1.5"/>
<path d="M203.7,262.5L238.8,262.5L240.7,213.5L241.5,213.5L242.8,255.9L244.3,197.5L244.9,197.5L245.2,219.8L245.6,232.8L246.0,240.8L246.4,245.7L246.8,248.8L247.1,250.8L247.5,252.1L247.9,252.9L248.3,253.5L248.6,254.0L249.0,254.3L249.4,254.6L249.8,254.9L250.2,255.1L250.5,255.3L250.9,255.5L251.3,255.7L251.7,255.9L252.0,256.1L252.4,256.2L252.8,256.4L253.2,256.5L253.6,256.7L253.9,256.8L254.3,257.0L254.7,257.1L255.1,257.2L255.4,257.4L255.8,257.5L256.2,257.6L256.6,257.7L257.0,257.9L257.3,258.0L257.7,258.1L258.1,258.2L258.5,258.3L258.8,258.4L259.2,258.5L259.6,258.6L260.0,258.7L260.3,258.8L260.7,258.9L261.1,258.9L261.5,259.0L261.9,259.1L262.2,259.2L262.6,259.3L263.0,259.3L263.4,259.4L263.7,259.5L264.1,259.5L264.5,259.6L264.9,259.7L265.3,259.7L265.6,259.8L266.0,259.8L266.4,259.9L266.8,260.0L267.1,260.0L267.5,260.1L267.9,260.1L268.3,260.2L268.7,260.2L269.0,260.3L269.4,260.3L269.8,260.3L270.2,260.4L270.5,260.4L270.9,260.5L271.3,260.5L271.7,260.6L272.1,260.6L272.4,260.6L272.8,260.7L273.2,260.7L273.6,260.7L273.9,260.8L274.3,260.8L274.7,260.8L275.1,260.8L275.5,260.9L275.8,260.9L276.2,260.9L276.6,261.0L277.0,261.0L277.3,261.0L277.7,261.0L278.1,261.1L278.5,261.1L278.9,261.1L279.2,261.1L279.6,261.1L280.0,261.2L280.4,261.2L280.7,261.2L281.1,261.2L281.5,261.2L281.9,261.3L282.3,261.3L282.6,261.3L283.0,261.3L283.4,261.3L283.8,261.3L284.1,261.4L284.5,261.4L284.9,261.4L285.3,261.4L285.7,261.4L286.0,261.4L286.4,261.4L286.8,261.4L287.2,261.5L287.5,261.5L287.9,261.5L288.3,261.5L288.7,261.5L289.1,261.5L289.4,261.5L289.8,261.5L290.2,261.5L290.6,261.6L290.9,261.6L291.3,261.6L291.7,261.6L292.1,261.6L292.5,261.6L292.8,261.6L293.2,261.6L293.6,261.6L294.0,261.6L294.3,261.6L294.7,261.6L295.1,261.6L295.5,261.6L295.9,261.7L296.2,261.7L296.6,261.7L297.0,261.7L297.4,261.7L297.7,261.7L298.1,261.7L298.5,261.7L298.9,261.7L299.2,261.7L299.6,261.7L300.0,261.7L300.4,261.7L300.8,261.7L301.1,261.7L301.5,261.7L301.9,261.7L302.3,261.7L302.6,261.7L303.0,261.7L303.4,261.7L303.8,261.8L304.2,261.8L304.5,261.8L304.9,261.8L305.3,261.8L305.7,261.8L306.0,261.8L306.4,261.8L306.8,261.8L307.2,261.8L307.6,261.8L307.9,261.8L308.3,261.8L308.7,261.8L309.1,261.8L309.4,261.8L309.8,261.8L310.2,261.8L310.6,261.8L311.0,261.8L311.3,261.8L311.7,261.8L312.1,261.8L312.5,261.8L312.8,261.8L313.2,261.8L313.6,261.8L314.0,261.8L314.4,261.8L314.7,261.8L315.1,261.8L315.5,261.8L315.9,261.8L316.2,261.8L316.6,261.8L317.0,261.8L317.0,261.8" fill="none" stroke="#0000ff" stroke-width="1.3" stroke-linejoin="round" />
<line x1="235.30" y1="218.00" x2="235.30" y2="258.80" stroke="#000" stroke-width="0.9" stroke-dasharray="1.6,1.2"/>
<path d="M233.90,219.40L235.30,216.00L236.70,219.40Z" fill="#000"/>
<path d="M233.90,257.40L235.30,260.80L236.70,257.40Z" fill="#000"/>
<line x1="250.30" y1="201.00" x2="250.30" y2="258.30" stroke="#000" stroke-width="0.9" stroke-dasharray="1.6,1.2"/>
<path d="M248.90,202.40L250.30,199.00L251.70,202.40Z" fill="#000"/>
<path d="M248.90,256.90L250.30,260.30L251.70,256.90Z" fill="#000"/>
<text stroke="#000" stroke-width="0.15" transform="translate(5.30,160.70) scale(0.92,1)" font-size="13.3" fill="#000" text-anchor="start" textLength="16.74" lengthAdjust="spacing">(c)</text>
<text stroke="#000" stroke-width="0.15" transform="translate(36.00,164.40) scale(0.95,1)" font-size="8.8" fill="#000" text-anchor="start" textLength="28.21" lengthAdjust="spacing">100 ms</text>
<text stroke="#000" stroke-width="0.15" transform="translate(83.70,163.70) scale(0.95,1)" font-size="8.8" fill="#000" textLength="57.89" lengthAdjust="spacing"><tspan font-size="8.8" dy="0.00">&#916;t</tspan><tspan font-size="6.2" dy="2.38">inter</tspan><tspan font-size="8.8" dy="-2.38"> = 50 ms</tspan></text>
<text stroke="#000" stroke-width="0.15" transform="translate(34.90,182.50) scale(0.95,1)" font-size="8.6" fill="#000" text-anchor="start" textLength="50.00" lengthAdjust="spacing">MWI casein</text>
<text stroke="#000" stroke-width="0.15" transform="translate(108.80,184.80) scale(0.95,1)" font-size="9.0" fill="#000" textLength="36.00" lengthAdjust="spacing"><tspan font-size="9.0" dy="0.00">V</tspan><tspan font-size="6.3" dy="2.43">D</tspan><tspan font-size="9.0" dy="-2.43"> = 1 V</tspan></text>
<text stroke="#000" stroke-width="0.15" transform="translate(51.30,251.70) scale(0.95,1)" font-size="9.0" fill="#000" textLength="9.47" lengthAdjust="spacing"><tspan font-size="9.0" dy="0.00">A</tspan><tspan font-size="6.3" dy="2.43">1</tspan></text>
<text stroke="#000" stroke-width="0.15" transform="translate(82.50,227.60) scale(0.95,1)" font-size="9.0" fill="#000" textLength="9.47" lengthAdjust="spacing"><tspan font-size="9.0" dy="0.00">A</tspan><tspan font-size="6.3" dy="2.43">2</tspan></text>
<text stroke="#ff0000" stroke-width="0.15" transform="translate(101.30,245.80) scale(0.95,1)" font-size="9.0" fill="#ff0000" textLength="23.16" lengthAdjust="spacing"><tspan font-size="9.0" dy="0.00">A</tspan><tspan font-size="6.3" dy="2.43">2</tspan><tspan font-size="9.0" dy="-2.43">/A</tspan><tspan font-size="6.3" dy="2.43">1</tspan></text>
<text stroke="#ff0000" stroke-width="0.15" transform="translate(101.30,258.80) scale(0.95,1)" font-size="9.0" fill="#ff0000" text-anchor="start" textLength="41.58" lengthAdjust="spacing">= 180.8 %</text>
<text stroke="#ff0000" stroke-width="0.3" transform="translate(12.40,222.90) rotate(-90) scale(0.88,1)" font-size="11.8" fill="#ff0000" text-anchor="middle" textLength="64.09" lengthAdjust="spacing">EPSC (nA)</text>
<text stroke="#000" stroke-width="0.3" transform="translate(68.80,295.10) scale(0.8,1)" font-size="11.8" fill="#000" text-anchor="start" textLength="50.25" lengthAdjust="spacing">Time (s)</text>
<text stroke="#000" stroke-width="0.3" transform="translate(165.50,212.50) rotate(-90) scale(0.82,1)" font-size="11.4" fill="#000" text-anchor="middle" textLength="132.93" lengthAdjust="spacing">Pre-synaptic spike (V)</text>
<text stroke="#000" stroke-width="0.15" transform="translate(177.00,160.70) scale(0.92,1)" font-size="13.3" fill="#000" text-anchor="start" textLength="18.15" lengthAdjust="spacing">(d)</text>
<text stroke="#000" stroke-width="0.15" transform="translate(207.00,164.40) scale(0.95,1)" font-size="8.8" fill="#000" text-anchor="start" textLength="28.42" lengthAdjust="spacing">100 ms</text>
<text stroke="#000" stroke-width="0.15" transform="translate(254.00,163.70) scale(0.95,1)" font-size="8.8" fill="#000" textLength="58.95" lengthAdjust="spacing"><tspan font-size="8.8" dy="0.00">&#916;t</tspan><tspan font-size="6.2" dy="2.38">inter</tspan><tspan font-size="8.8" dy="-2.38"> = 50 ms</tspan></text>
<text stroke="#000" stroke-width="0.15" transform="translate(206.10,183.50) scale(0.95,1)" font-size="8.6" fill="#000" text-anchor="start" textLength="56.74" lengthAdjust="spacing">Stirrer casein</text>
<text stroke="#000" stroke-width="0.15" transform="translate(279.60,184.20) scale(0.95,1)" font-size="9.0" fill="#000" textLength="36.11" lengthAdjust="spacing"><tspan font-size="9.0" dy="0.00">V</tspan><tspan font-size="6.3" dy="2.43">D</tspan><tspan font-size="9.0" dy="-2.43"> = 1 V</tspan></text>
<text stroke="#000" stroke-width="0.15" transform="translate(223.30,242.00) scale(0.95,1)" font-size="9.0" fill="#000" textLength="9.47" lengthAdjust="spacing"><tspan font-size="9.0" dy="0.00">A</tspan><tspan font-size="6.3" dy="2.43">1</tspan></text>
<text stroke="#000" stroke-width="0.15" transform="translate(254.60,231.20) scale(0.95,1)" font-size="9.0" fill="#000" textLength="9.47" lengthAdjust="spacing"><tspan font-size="9.0" dy="0.00">A</tspan><tspan font-size="6.3" dy="2.43">2</tspan></text>
<text stroke="#0000ff" stroke-width="0.15" transform="translate(273.10,240.80) scale(0.95,1)" font-size="9.0" fill="#0000ff" textLength="24.21" lengthAdjust="spacing"><tspan font-size="9.0" dy="0.00">A</tspan><tspan font-size="6.3" dy="2.43">2</tspan><tspan font-size="9.0" dy="-2.43">/A</tspan><tspan font-size="6.3" dy="2.43">1</tspan></text>
<text stroke="#0000ff" stroke-width="0.15" transform="translate(273.10,252.50) scale(0.95,1)" font-size="9.0" fill="#0000ff" text-anchor="start" textLength="41.89" lengthAdjust="spacing">= 147.7 %</text>
<text stroke="#0000ff" stroke-width="0.3" transform="translate(189.20,223.20) rotate(-90) scale(0.88,1)" font-size="11.8" fill="#0000ff" text-anchor="middle" textLength="62.50" lengthAdjust="spacing">EPSC (nA)</text>
<text stroke="#000" stroke-width="0.3" transform="translate(240.30,295.20) scale(0.8,1)" font-size="11.8" fill="#000" text-anchor="start" textLength="50.88" lengthAdjust="spacing">Time (s)</text>
<text stroke="#000" stroke-width="0.3" transform="translate(335.60,212.50) rotate(-90) scale(0.82,1)" font-size="11.4" fill="#000" text-anchor="middle" textLength="132.93" lengthAdjust="spacing">Pre-synaptic spike (V)</text>
<text transform="translate(346.70,160.40) scale(0.92,1)" font-size="13.3" fill="#000" text-anchor="start" textLength="17.17" lengthAdjust="spacing">(e)</text>
<rect x="390.00" y="156.40" width="151.20" height="111.10" fill="none" stroke="#000" stroke-width="1.3"/>
<line x1="390.00" y1="262.40" x2="393.00" y2="262.40" stroke="#000" stroke-width="0.9" />
<line x1="390.00" y1="251.83" x2="392.00" y2="251.83" stroke="#000" stroke-width="0.9" />
<line x1="390.00" y1="241.26" x2="393.00" y2="241.26" stroke="#000" stroke-width="0.9" />
<line x1="390.00" y1="230.69" x2="392.00" y2="230.69" stroke="#000" stroke-width="0.9" />
<line x1="390.00" y1="220.12" x2="393.00" y2="220.12" stroke="#000" stroke-width="0.9" />
<line x1="390.00" y1="209.55" x2="392.00" y2="209.55" stroke="#000" stroke-width="0.9" />
<line x1="390.00" y1="198.98" x2="393.00" y2="198.98" stroke="#000" stroke-width="0.9" />
<line x1="390.00" y1="188.41" x2="392.00" y2="188.41" stroke="#000" stroke-width="0.9" />
<line x1="390.00" y1="177.84" x2="393.00" y2="177.84" stroke="#000" stroke-width="0.9" />
<line x1="390.00" y1="167.27" x2="392.00" y2="167.27" stroke="#000" stroke-width="0.9" />
<line x1="395.00" y1="267.50" x2="395.00" y2="264.50" stroke="#000" stroke-width="0.9" />
<line x1="406.79" y1="267.50" x2="406.79" y2="265.50" stroke="#000" stroke-width="0.9" />
<line x1="418.57" y1="267.50" x2="418.57" y2="264.50" stroke="#000" stroke-width="0.9" />
<line x1="430.36" y1="267.50" x2="430.36" y2="265.50" stroke="#000" stroke-width="0.9" />
<line x1="442.15" y1="267.50" x2="442.15" y2="264.50" stroke="#000" stroke-width="0.9" />
<line x1="453.94" y1="267.50" x2="453.94" y2="265.50" stroke="#000" stroke-width="0.9" />
<line x1="465.73" y1="267.50" x2="465.73" y2="264.50" stroke="#000" stroke-width="0.9" />
<line x1="477.51" y1="267.50" x2="477.51" y2="265.50" stroke="#000" stroke-width="0.9" />
<line x1="489.30" y1="267.50" x2="489.30" y2="264.50" stroke="#000" stroke-width="0.9" />
<line x1="501.09" y1="267.50" x2="501.09" y2="265.50" stroke="#000" stroke-width="0.9" />
<line x1="512.88" y1="267.50" x2="512.88" y2="264.50" stroke="#000" stroke-width="0.9" />
<line x1="524.66" y1="267.50" x2="524.66" y2="265.50" stroke="#000" stroke-width="0.9" />
<text transform="translate(388.00,265.70) scale(0.92,1)" font-size="10.58" fill="#000" text-anchor="end">100</text>
<text transform="translate(388.00,244.56) scale(0.92,1)" font-size="10.58" fill="#000" text-anchor="end">120</text>
<text transform="translate(388.00,223.42) scale(0.92,1)" font-size="10.58" fill="#000" text-anchor="end">140</text>
<text transform="translate(388.00,202.28) scale(0.92,1)" font-size="10.58" fill="#000" text-anchor="end">160</text>
<text transform="translate(388.00,181.14) scale(0.92,1)" font-size="10.58" fill="#000" text-anchor="end">180</text>
<text transform="translate(388.00,160.00) scale(0.92,1)" font-size="10.58" fill="#000" text-anchor="end">200</text>
<text transform="translate(395.00,278.40) scale(0.92,1)" font-size="10.58" fill="#000" text-anchor="middle">0</text>
<text transform="translate(418.57,278.40) scale(0.92,1)" font-size="10.58" fill="#000" text-anchor="middle">250</text>
<text transform="translate(442.15,278.40) scale(0.92,1)" font-size="10.58" fill="#000" text-anchor="middle">500</text>
<text transform="translate(465.73,278.40) scale(0.92,1)" font-size="10.58" fill="#000" text-anchor="middle">750</text>
<text transform="translate(489.30,278.40) scale(0.92,1)" font-size="10.58" fill="#000" text-anchor="middle">1000</text>
<text transform="translate(512.88,278.40) scale(0.92,1)" font-size="10.58" fill="#000" text-anchor="middle">1250</text>
<text transform="translate(536.45,278.40) scale(0.92,1)" font-size="10.58" fill="#000" text-anchor="middle">1500</text>
<text stroke="#000" stroke-width="0.2" transform="translate(366.20,212.60) rotate(-90) scale(0.82,1)" font-size="12.0" fill="#000" text-anchor="middle" textLength="99.39" lengthAdjust="spacing">PPF index (%)</text>
<text stroke="#000" stroke-width="0.2" transform="translate(437.00,289.60) scale(0.82,1)" font-size="12.5" fill="#000" textLength="69.51" lengthAdjust="spacing"><tspan font-size="12.5" dy="0.00">&#916;t</tspan><tspan font-size="8.8" dy="3.38">inter</tspan><tspan font-size="12.5" dy="-3.38"> (ms)</tspan></text>
<path d="M399.7,176.8L400.1,179.3L400.5,181.8L400.8,184.1L401.2,186.4L401.6,188.5L402.0,190.6L402.4,192.7L402.7,194.6L403.1,196.5L403.5,198.3L403.9,200.0L404.2,201.7L404.6,203.3L405.0,204.8L405.4,206.3L405.8,207.8L406.1,209.1L406.5,210.5L406.9,211.8L407.3,213.0L407.6,214.2L408.0,215.3L408.4,216.4L408.8,217.5L409.1,218.5L409.5,219.5L409.9,220.5L410.3,221.4L410.7,222.3L411.0,223.1L411.4,224.0L411.8,224.8L412.2,225.5L412.5,226.3L412.9,227.0L413.3,227.7L413.7,228.3L414.0,229.0L414.4,229.6L414.8,230.2L415.2,230.7L415.6,231.3L415.9,231.8L416.3,232.4L416.7,232.9L417.1,233.3L417.4,233.8L417.8,234.2L418.2,234.7L418.6,235.1L419.0,235.5L419.3,235.9L419.7,236.3L420.1,236.6L420.5,237.0L420.8,237.3L421.2,237.7L421.6,238.0L422.0,238.3L422.3,238.6L422.7,238.9L423.1,239.2L423.5,239.4L423.9,239.7L424.2,240.0L424.6,240.2L425.0,240.4L425.4,240.7L425.7,240.9L426.1,241.1L426.5,241.3L426.9,241.5L427.3,241.7L427.6,241.9L428.0,242.1L428.4,242.3L428.8,242.5L429.1,242.6L429.5,242.8L429.9,243.0L430.3,243.1L430.6,243.3L431.0,243.4L431.4,243.6L431.8,243.7L432.2,243.8L432.5,244.0L432.9,244.1L433.3,244.2L433.7,244.4L434.0,244.5L434.4,244.6L434.8,244.7L435.2,244.8L435.5,244.9L435.9,245.0L436.3,245.1L436.7,245.2L437.1,245.3L437.4,245.4L437.8,245.5L438.2,245.6L438.6,245.7L438.9,245.8L439.3,245.9L439.7,246.0L440.1,246.1L440.5,246.1L440.8,246.2L441.2,246.3L441.6,246.4L442.0,246.5L442.3,246.5L442.7,246.6L443.1,246.7L443.5,246.7L443.8,246.8L444.2,246.9L444.6,247.0L445.0,247.0L445.4,247.1L445.7,247.2L446.1,247.2L446.5,247.3L446.9,247.3L447.2,247.4L447.6,247.5L448.0,247.5L448.4,247.6L448.8,247.6L449.1,247.7L449.5,247.7L449.9,247.8L450.3,247.9L450.6,247.9L451.0,248.0L451.4,248.0L451.8,248.1L452.1,248.1L452.5,248.2L452.9,248.2L453.3,248.3L453.7,248.3L454.0,248.4L454.4,248.4L454.8,248.5L455.2,248.5L455.5,248.6L455.9,248.6L456.3,248.7L456.7,248.7L457.0,248.7L457.4,248.8L457.8,248.8L458.2,248.9L458.6,248.9L458.9,249.0L459.3,249.0L459.7,249.1L460.1,249.1L460.4,249.1L460.8,249.2L461.2,249.2L461.6,249.3L462.0,249.3L462.3,249.3L462.7,249.4L463.1,249.4L463.5,249.5L463.8,249.5L464.2,249.5L464.6,249.6L465.0,249.6L465.3,249.7L465.7,249.7L466.1,249.7L466.5,249.8L466.9,249.8L467.2,249.9L467.6,249.9L468.0,249.9L468.4,250.0L468.7,250.0L469.1,250.0L469.5,250.1L469.9,250.1L470.3,250.2L470.6,250.2L471.0,250.2L471.4,250.3L471.8,250.3L472.1,250.3L472.5,250.4L472.9,250.4L473.3,250.4L473.6,250.5L474.0,250.5L474.4,250.5L474.8,250.6L475.2,250.6L475.5,250.7L475.9,250.7L476.3,250.7L476.7,250.8L477.0,250.8L477.4,250.8L477.8,250.9L478.2,250.9L478.5,250.9L478.9,251.0L479.3,251.0L479.7,251.0L480.1,251.1L480.4,251.1L480.8,251.1L481.2,251.2L481.6,251.2L481.9,251.2L482.3,251.3L482.7,251.3L483.1,251.3L483.5,251.3L483.8,251.4L484.2,251.4L484.6,251.4L485.0,251.5L485.3,251.5L485.7,251.5L486.1,251.6L486.5,251.6L486.8,251.6L487.2,251.7L487.6,251.7L488.0,251.7L488.4,251.8L488.7,251.8L489.1,251.8L489.5,251.8L489.9,251.9L490.2,251.9L490.6,251.9L491.0,252.0L491.4,252.0L491.8,252.0L492.1,252.1L492.5,252.1L492.9,252.1L493.3,252.1L493.6,252.2L494.0,252.2L494.4,252.2L494.8,252.3L495.1,252.3L495.5,252.3L495.9,252.4L496.3,252.4L496.7,252.4L497.0,252.4L497.4,252.5L497.8,252.5L498.2,252.5L498.5,252.5L498.9,252.6L499.3,252.6L499.7,252.6L500.1,252.7L500.4,252.7L500.8,252.7L501.2,252.7L501.6,252.8L501.9,252.8L502.3,252.8L502.7,252.9L503.1,252.9L503.4,252.9L503.8,252.9L504.2,253.0L504.6,253.0L505.0,253.0L505.3,253.0L505.7,253.1L506.1,253.1L506.5,253.1L506.8,253.2L507.2,253.2L507.6,253.2L508.0,253.2L508.3,253.3L508.7,253.3L509.1,253.3L509.5,253.3L509.9,253.4L510.2,253.4L510.6,253.4L511.0,253.4L511.4,253.5L511.7,253.5L512.1,253.5L512.5,253.5L512.9,253.6L513.3,253.6L513.6,253.6L514.0,253.6L514.4,253.7L514.8,253.7L515.1,253.7L515.5,253.7L515.9,253.8L516.3,253.8L516.6,253.8L517.0,253.8L517.4,253.9L517.8,253.9L518.2,253.9L518.5,253.9L518.9,254.0L519.3,254.0L519.7,254.0L520.0,254.0L520.4,254.1L520.8,254.1L521.2,254.1L521.6,254.1L521.9,254.1L522.3,254.2L522.7,254.2L523.1,254.2L523.4,254.2L523.8,254.3L524.2,254.3L524.6,254.3L524.9,254.3L525.3,254.4L525.7,254.4L526.1,254.4L526.5,254.4L526.8,254.5L527.2,254.5L527.6,254.5L528.0,254.5L528.3,254.5L528.7,254.6L529.1,254.6L529.5,254.6L529.8,254.6L530.2,254.7L530.6,254.7L531.0,254.7L531.4,254.7L531.7,254.7L532.1,254.8L532.5,254.8L532.9,254.8L533.2,254.8L533.6,254.8L534.0,254.9L534.4,254.9L534.8,254.9L535.1,254.9L535.5,255.0L535.9,255.0L536.3,255.0" fill="none" stroke="#ff0000" stroke-width="1.7" stroke-linejoin="round" />
<path d="M399.7,218.1L400.1,219.8L400.5,221.3L400.8,222.8L401.2,224.3L401.6,225.6L402.0,226.9L402.4,228.1L402.7,229.3L403.1,230.4L403.5,231.5L403.9,232.5L404.2,233.4L404.6,234.4L405.0,235.2L405.4,236.1L405.8,236.9L406.1,237.6L406.5,238.3L406.9,239.0L407.3,239.7L407.6,240.3L408.0,240.9L408.4,241.4L408.8,242.0L409.1,242.5L409.5,243.0L409.9,243.5L410.3,243.9L410.7,244.3L411.0,244.7L411.4,245.1L411.8,245.5L412.2,245.8L412.5,246.2L412.9,246.5L413.3,246.8L413.7,247.1L414.0,247.4L414.4,247.7L414.8,247.9L415.2,248.2L415.6,248.4L415.9,248.6L416.3,248.9L416.7,249.1L417.1,249.3L417.4,249.5L417.8,249.6L418.2,249.8L418.6,250.0L419.0,250.2L419.3,250.3L419.7,250.5L420.1,250.6L420.5,250.7L420.8,250.9L421.2,251.0L421.6,251.1L422.0,251.3L422.3,251.4L422.7,251.5L423.1,251.6L423.5,251.7L423.9,251.8L424.2,251.9L424.6,252.0L425.0,252.1L425.4,252.2L425.7,252.3L426.1,252.3L426.5,252.4L426.9,252.5L427.3,252.6L427.6,252.6L428.0,252.7L428.4,252.8L428.8,252.9L429.1,252.9L429.5,253.0L429.9,253.0L430.3,253.1L430.6,253.2L431.0,253.2L431.4,253.3L431.8,253.3L432.2,253.4L432.5,253.4L432.9,253.5L433.3,253.5L433.7,253.6L434.0,253.6L434.4,253.7L434.8,253.7L435.2,253.8L435.5,253.8L435.9,253.9L436.3,253.9L436.7,254.0L437.1,254.0L437.4,254.0L437.8,254.1L438.2,254.1L438.6,254.2L438.9,254.2L439.3,254.2L439.7,254.3L440.1,254.3L440.5,254.4L440.8,254.4L441.2,254.4L441.6,254.5L442.0,254.5L442.3,254.5L442.7,254.6L443.1,254.6L443.5,254.6L443.8,254.7L444.2,254.7L444.6,254.7L445.0,254.8L445.4,254.8L445.7,254.8L446.1,254.9L446.5,254.9L446.9,254.9L447.2,255.0L447.6,255.0L448.0,255.0L448.4,255.1L448.8,255.1L449.1,255.1L449.5,255.1L449.9,255.2L450.3,255.2L450.6,255.2L451.0,255.3L451.4,255.3L451.8,255.3L452.1,255.4L452.5,255.4L452.9,255.4L453.3,255.4L453.7,255.5L454.0,255.5L454.4,255.5L454.8,255.5L455.2,255.6L455.5,255.6L455.9,255.6L456.3,255.7L456.7,255.7L457.0,255.7L457.4,255.7L457.8,255.8L458.2,255.8L458.6,255.8L458.9,255.8L459.3,255.9L459.7,255.9L460.1,255.9L460.4,255.9L460.8,256.0L461.2,256.0L461.6,256.0L462.0,256.0L462.3,256.1L462.7,256.1L463.1,256.1L463.5,256.1L463.8,256.2L464.2,256.2L464.6,256.2L465.0,256.2L465.3,256.3L465.7,256.3L466.1,256.3L466.5,256.3L466.9,256.4L467.2,256.4L467.6,256.4L468.0,256.4L468.4,256.4L468.7,256.5L469.1,256.5L469.5,256.5L469.9,256.5L470.3,256.6L470.6,256.6L471.0,256.6L471.4,256.6L471.8,256.7L472.1,256.7L472.5,256.7L472.9,256.7L473.3,256.7L473.6,256.8L474.0,256.8L474.4,256.8L474.8,256.8L475.2,256.8L475.5,256.9L475.9,256.9L476.3,256.9L476.7,256.9L477.0,257.0L477.4,257.0L477.8,257.0L478.2,257.0L478.5,257.0L478.9,257.1L479.3,257.1L479.7,257.1L480.1,257.1L480.4,257.1L480.8,257.2L481.2,257.2L481.6,257.2L481.9,257.2L482.3,257.2L482.7,257.3L483.1,257.3L483.5,257.3L483.8,257.3L484.2,257.3L484.6,257.4L485.0,257.4L485.3,257.4L485.7,257.4L486.1,257.4L486.5,257.5L486.8,257.5L487.2,257.5L487.6,257.5L488.0,257.5L488.4,257.5L488.7,257.6L489.1,257.6L489.5,257.6L489.9,257.6L490.2,257.6L490.6,257.7L491.0,257.7L491.4,257.7L491.8,257.7L492.1,257.7L492.5,257.7L492.9,257.8L493.3,257.8L493.6,257.8L494.0,257.8L494.4,257.8L494.8,257.9L495.1,257.9L495.5,257.9L495.9,257.9L496.3,257.9L496.7,257.9L497.0,258.0L497.4,258.0L497.8,258.0L498.2,258.0L498.5,258.0L498.9,258.0L499.3,258.1L499.7,258.1L500.1,258.1L500.4,258.1L500.8,258.1L501.2,258.1L501.6,258.2L501.9,258.2L502.3,258.2L502.7,258.2L503.1,258.2L503.4,258.2L503.8,258.3L504.2,258.3L504.6,258.3L505.0,258.3L505.3,258.3L505.7,258.3L506.1,258.4L506.5,258.4L506.8,258.4L507.2,258.4L507.6,258.4L508.0,258.4L508.3,258.4L508.7,258.5L509.1,258.5L509.5,258.5L509.9,258.5L510.2,258.5L510.6,258.5L511.0,258.5L511.4,258.6L511.7,258.6L512.1,258.6L512.5,258.6L512.9,258.6L513.3,258.6L513.6,258.7L514.0,258.7L514.4,258.7L514.8,258.7L515.1,258.7L515.5,258.7L515.9,258.7L516.3,258.8L516.6,258.8L517.0,258.8L517.4,258.8L517.8,258.8L518.2,258.8L518.5,258.8L518.9,258.8L519.3,258.9L519.7,258.9L520.0,258.9L520.4,258.9L520.8,258.9L521.2,258.9L521.6,258.9L521.9,259.0L522.3,259.0L522.7,259.0L523.1,259.0L523.4,259.0L523.8,259.0L524.2,259.0L524.6,259.0L524.9,259.1L525.3,259.1L525.7,259.1L526.1,259.1L526.5,259.1L526.8,259.1L527.2,259.1L527.6,259.1L528.0,259.2L528.3,259.2L528.7,259.2L529.1,259.2L529.5,259.2L529.8,259.2L530.2,259.2L530.6,259.2L531.0,259.3L531.4,259.3L531.7,259.3L532.1,259.3L532.5,259.3L532.9,259.3L533.2,259.3L533.6,259.3L534.0,259.4L534.4,259.4L534.8,259.4L535.1,259.4L535.5,259.4L535.9,259.4L536.3,259.4" fill="none" stroke="#0000ff" stroke-width="1.7" stroke-linejoin="round" />
<circle cx="400.00" cy="176.47" r="3.1" fill="none" stroke="#f0505a" stroke-width="1.15"/>
<circle cx="401.98" cy="189.57" r="3.1" fill="none" stroke="#f0505a" stroke-width="1.15"/>
<circle cx="403.39" cy="199.61" r="3.1" fill="none" stroke="#f0505a" stroke-width="1.15"/>
<circle cx="405.66" cy="207.33" r="3.1" fill="none" stroke="#f0505a" stroke-width="1.15"/>
<circle cx="408.01" cy="216.00" r="3.1" fill="none" stroke="#f0505a" stroke-width="1.15"/>
<circle cx="413.95" cy="226.04" r="3.1" fill="none" stroke="#f0505a" stroke-width="1.15"/>
<circle cx="418.95" cy="233.02" r="3.1" fill="none" stroke="#f0505a" stroke-width="1.15"/>
<circle cx="423.01" cy="237.98" r="3.1" fill="none" stroke="#f0505a" stroke-width="1.15"/>
<circle cx="433.00" cy="244.96" r="3.1" fill="none" stroke="#f0505a" stroke-width="1.15"/>
<circle cx="441.96" cy="246.97" r="3.1" fill="none" stroke="#f0505a" stroke-width="1.15"/>
<circle cx="461.01" cy="249.19" r="3.1" fill="none" stroke="#f0505a" stroke-width="1.15"/>
<circle cx="489.68" cy="252.04" r="3.1" fill="none" stroke="#f0505a" stroke-width="1.15"/>
<circle cx="536.45" cy="253.63" r="3.1" fill="none" stroke="#f0505a" stroke-width="1.15"/>
<circle cx="399.34" cy="218.22" r="3.1" fill="none" stroke="#3c82f0" stroke-width="1.15"/>
<circle cx="402.07" cy="224.45" r="3.1" fill="none" stroke="#3c82f0" stroke-width="1.15"/>
<circle cx="403.49" cy="230.27" r="3.1" fill="none" stroke="#3c82f0" stroke-width="1.15"/>
<circle cx="405.18" cy="236.19" r="3.1" fill="none" stroke="#3c82f0" stroke-width="1.15"/>
<circle cx="408.67" cy="243.16" r="3.1" fill="none" stroke="#3c82f0" stroke-width="1.15"/>
<circle cx="414.52" cy="246.65" r="3.1" fill="none" stroke="#3c82f0" stroke-width="1.15"/>
<circle cx="419.24" cy="249.50" r="3.1" fill="none" stroke="#3c82f0" stroke-width="1.15"/>
<circle cx="423.76" cy="251.30" r="3.1" fill="none" stroke="#3c82f0" stroke-width="1.15"/>
<circle cx="433.19" cy="253.20" r="3.1" fill="none" stroke="#3c82f0" stroke-width="1.15"/>
<circle cx="442.53" cy="254.37" r="3.1" fill="none" stroke="#3c82f0" stroke-width="1.15"/>
<circle cx="461.20" cy="256.27" r="3.1" fill="none" stroke="#3c82f0" stroke-width="1.15"/>
<circle cx="489.68" cy="257.75" r="3.1" fill="none" stroke="#3c82f0" stroke-width="1.15"/>
<circle cx="536.45" cy="259.44" r="3.1" fill="none" stroke="#3c82f0" stroke-width="1.15"/>
<text stroke="#ff0000" stroke-width="0.1" transform="translate(419.90,167.00) scale(0.95,1)" font-size="9" fill="#ff0000" text-anchor="start" textLength="49.89" lengthAdjust="spacing">MWI casein</text>
<circle cx="430" cy="175.3" r="3.1" fill="none" stroke="#f0505a" stroke-width="1.15"/>
<line x1="419.30" y1="185.70" x2="440.10" y2="185.70" stroke="#ff0000" stroke-width="1.7" />
<text stroke="#000" stroke-width="0.1" transform="translate(443.30,178.40) scale(0.95,1)" font-size="9" fill="#000" text-anchor="start" textLength="38.63" lengthAdjust="spacing">Exp. data</text>
<text stroke="#000" stroke-width="0.1" transform="translate(443.30,189.00) scale(0.95,1)" font-size="9" fill="#000" text-anchor="start" textLength="27.89" lengthAdjust="spacing">Fitting</text>
<text stroke="#0000ff" stroke-width="0.1" transform="translate(419.90,201.20) scale(0.95,1)" font-size="9" fill="#0000ff" text-anchor="start" textLength="55.79" lengthAdjust="spacing">Stirrer casein</text>
<circle cx="430" cy="208.5" r="3.1" fill="none" stroke="#3c82f0" stroke-width="1.15"/>
<line x1="419.30" y1="219.90" x2="440.10" y2="219.90" stroke="#0000ff" stroke-width="1.7" />
<text stroke="#000" stroke-width="0.1" transform="translate(443.30,211.80) scale(0.95,1)" font-size="9" fill="#000" text-anchor="start" textLength="38.63" lengthAdjust="spacing">Exp. data</text>
<text stroke="#000" stroke-width="0.1" transform="translate(443.30,223.50) scale(0.95,1)" font-size="9" fill="#000" text-anchor="start" textLength="27.89" lengthAdjust="spacing">Fitting</text>
<text stroke="#000" stroke-width="0.1" transform="translate(484.40,178.40) scale(0.95,1)" font-size="9" fill="#000" textLength="53.58" lengthAdjust="spacing"><tspan font-size="9.0" dy="0.00">&#964;</tspan><tspan font-size="6.3" dy="2.43">1</tspan><tspan font-size="9.0" dy="-2.43"> = 102.8 ms</tspan></text>
<text stroke="#000" stroke-width="0.1" transform="translate(484.40,189.00) scale(0.95,1)" font-size="9" fill="#000" textLength="50.84" lengthAdjust="spacing"><tspan font-size="9.0" dy="0.00">&#964;</tspan><tspan font-size="6.3" dy="2.43">2</tspan><tspan font-size="9.0" dy="-2.43"> = 1401 ms</tspan></text>
<text stroke="#000" stroke-width="0.1" transform="translate(484.40,211.80) scale(0.95,1)" font-size="9" fill="#000" textLength="48.63" lengthAdjust="spacing"><tspan font-size="9.0" dy="0.00">&#964;</tspan><tspan font-size="6.3" dy="2.43">1</tspan><tspan font-size="9.0" dy="-2.43"> = 78.4 ms</tspan></text>
<text stroke="#000" stroke-width="0.1" transform="translate(484.40,223.50) scale(0.95,1)" font-size="9" fill="#000" textLength="58.63" lengthAdjust="spacing"><tspan font-size="9.0" dy="0.00">&#964;</tspan><tspan font-size="6.3" dy="2.43">2</tspan><tspan font-size="9.0" dy="-2.43"> = 1039.2 ms</tspan></text>
</svg>
</body></html>
